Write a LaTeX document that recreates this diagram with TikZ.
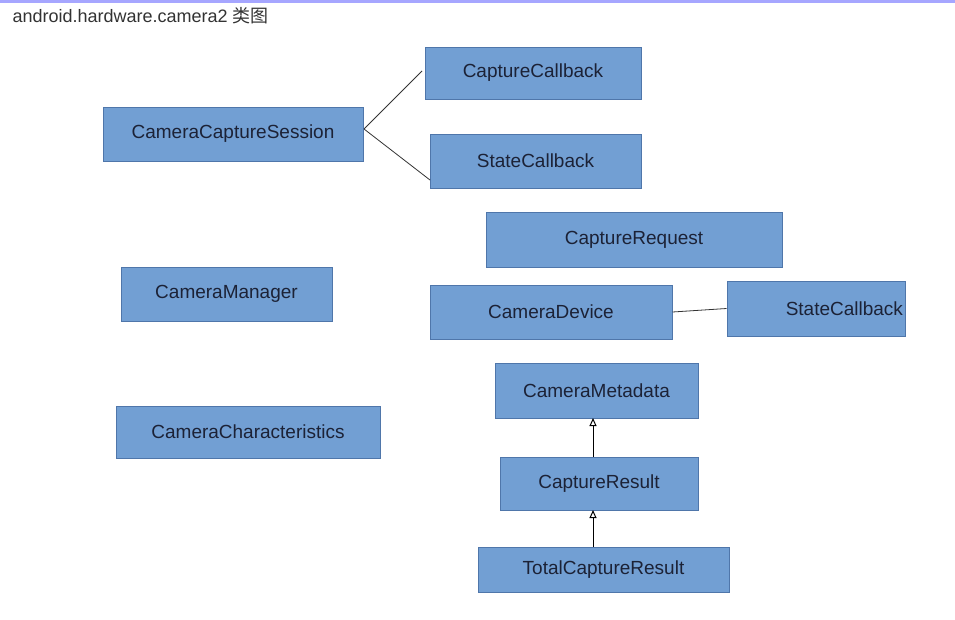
\documentclass[tikz,border=0pt]{standalone}
\usepackage{fontspec}
\setmainfont{Liberation Sans}
\newfontfamily\cjk{Noto Sans CJK SC}
\usetikzlibrary{arrows.meta}
\definecolor{boxfill}{HTML}{729FD3}
\definecolor{boxline}{HTML}{4F76AA}
\definecolor{txt}{HTML}{1C2236}
\begin{document}
\begin{tikzpicture}[x=1pt,y=-1pt,
  box/.style={draw=boxline,fill=boxfill,line width=1pt,inner sep=0pt,font=\fontsize{19}{22}\selectfont,text=txt},
  link/.style={draw=black!80,line width=0.8pt},
  inh/.style={draw=black,line width=1pt,-{Triangle[open,length=8pt,width=7pt]}}]
\useasboundingbox (0,0) rectangle (955,619);
\fill[white] (0,0) rectangle (955,619);
\fill[blue!30!cyan!20!white,fill=blue!35!white] (0,0) rectangle (955,3);
\node[anchor=west,font=\fontsize{18}{20}\selectfont,text=black!80] (title) at (9,16) {android.hardware.camera2 {\cjk 类图}};
\newcommand{\bx}[6]{\node[box,minimum width=#4-#2,minimum height=#5-#3] (#1) at ({(#2+#4)/2},{(#3+#5)/2}) {#6};}
\bx{ccs}{103}{107}{363}{161}{CameraCaptureSession}
\bx{capcb}{425}{47}{641}{99}{CaptureCallback}
\bx{scb}{430}{134}{641}{188}{StateCallback}
\bx{creq}{486}{212}{782}{267}{CaptureRequest}
\bx{cman}{121}{267}{332}{321}{CameraManager}
\bx{cdev}{430}{285}{672}{339}{CameraDevice}
\node[box,minimum width=178,minimum height=55,text width=174,align=right] (dscb) at (816,308.5) {StateCallback};
\bx{cmeta}{495}{363}{698}{418}{CameraMetadata}
\bx{cres}{500}{457}{698}{510}{CaptureResult}
\bx{tcres}{478}{547}{729}{592}{TotalCaptureResult}
\bx{cchar}{116}{406}{380}{458}{CameraCharacteristics}
\coordinate (j) at (364,129);
\draw[link] (j) -- (422,71);
\draw[link] (j) -- (430,180);
\draw[link] (cdev.east) -- (dscb.west);
\draw[inh] (tcres.north -| 593,0) -- (593,510);
\draw[inh] (cres.north -| 593,0) -- (593,418);
\end{tikzpicture}
\end{document}
